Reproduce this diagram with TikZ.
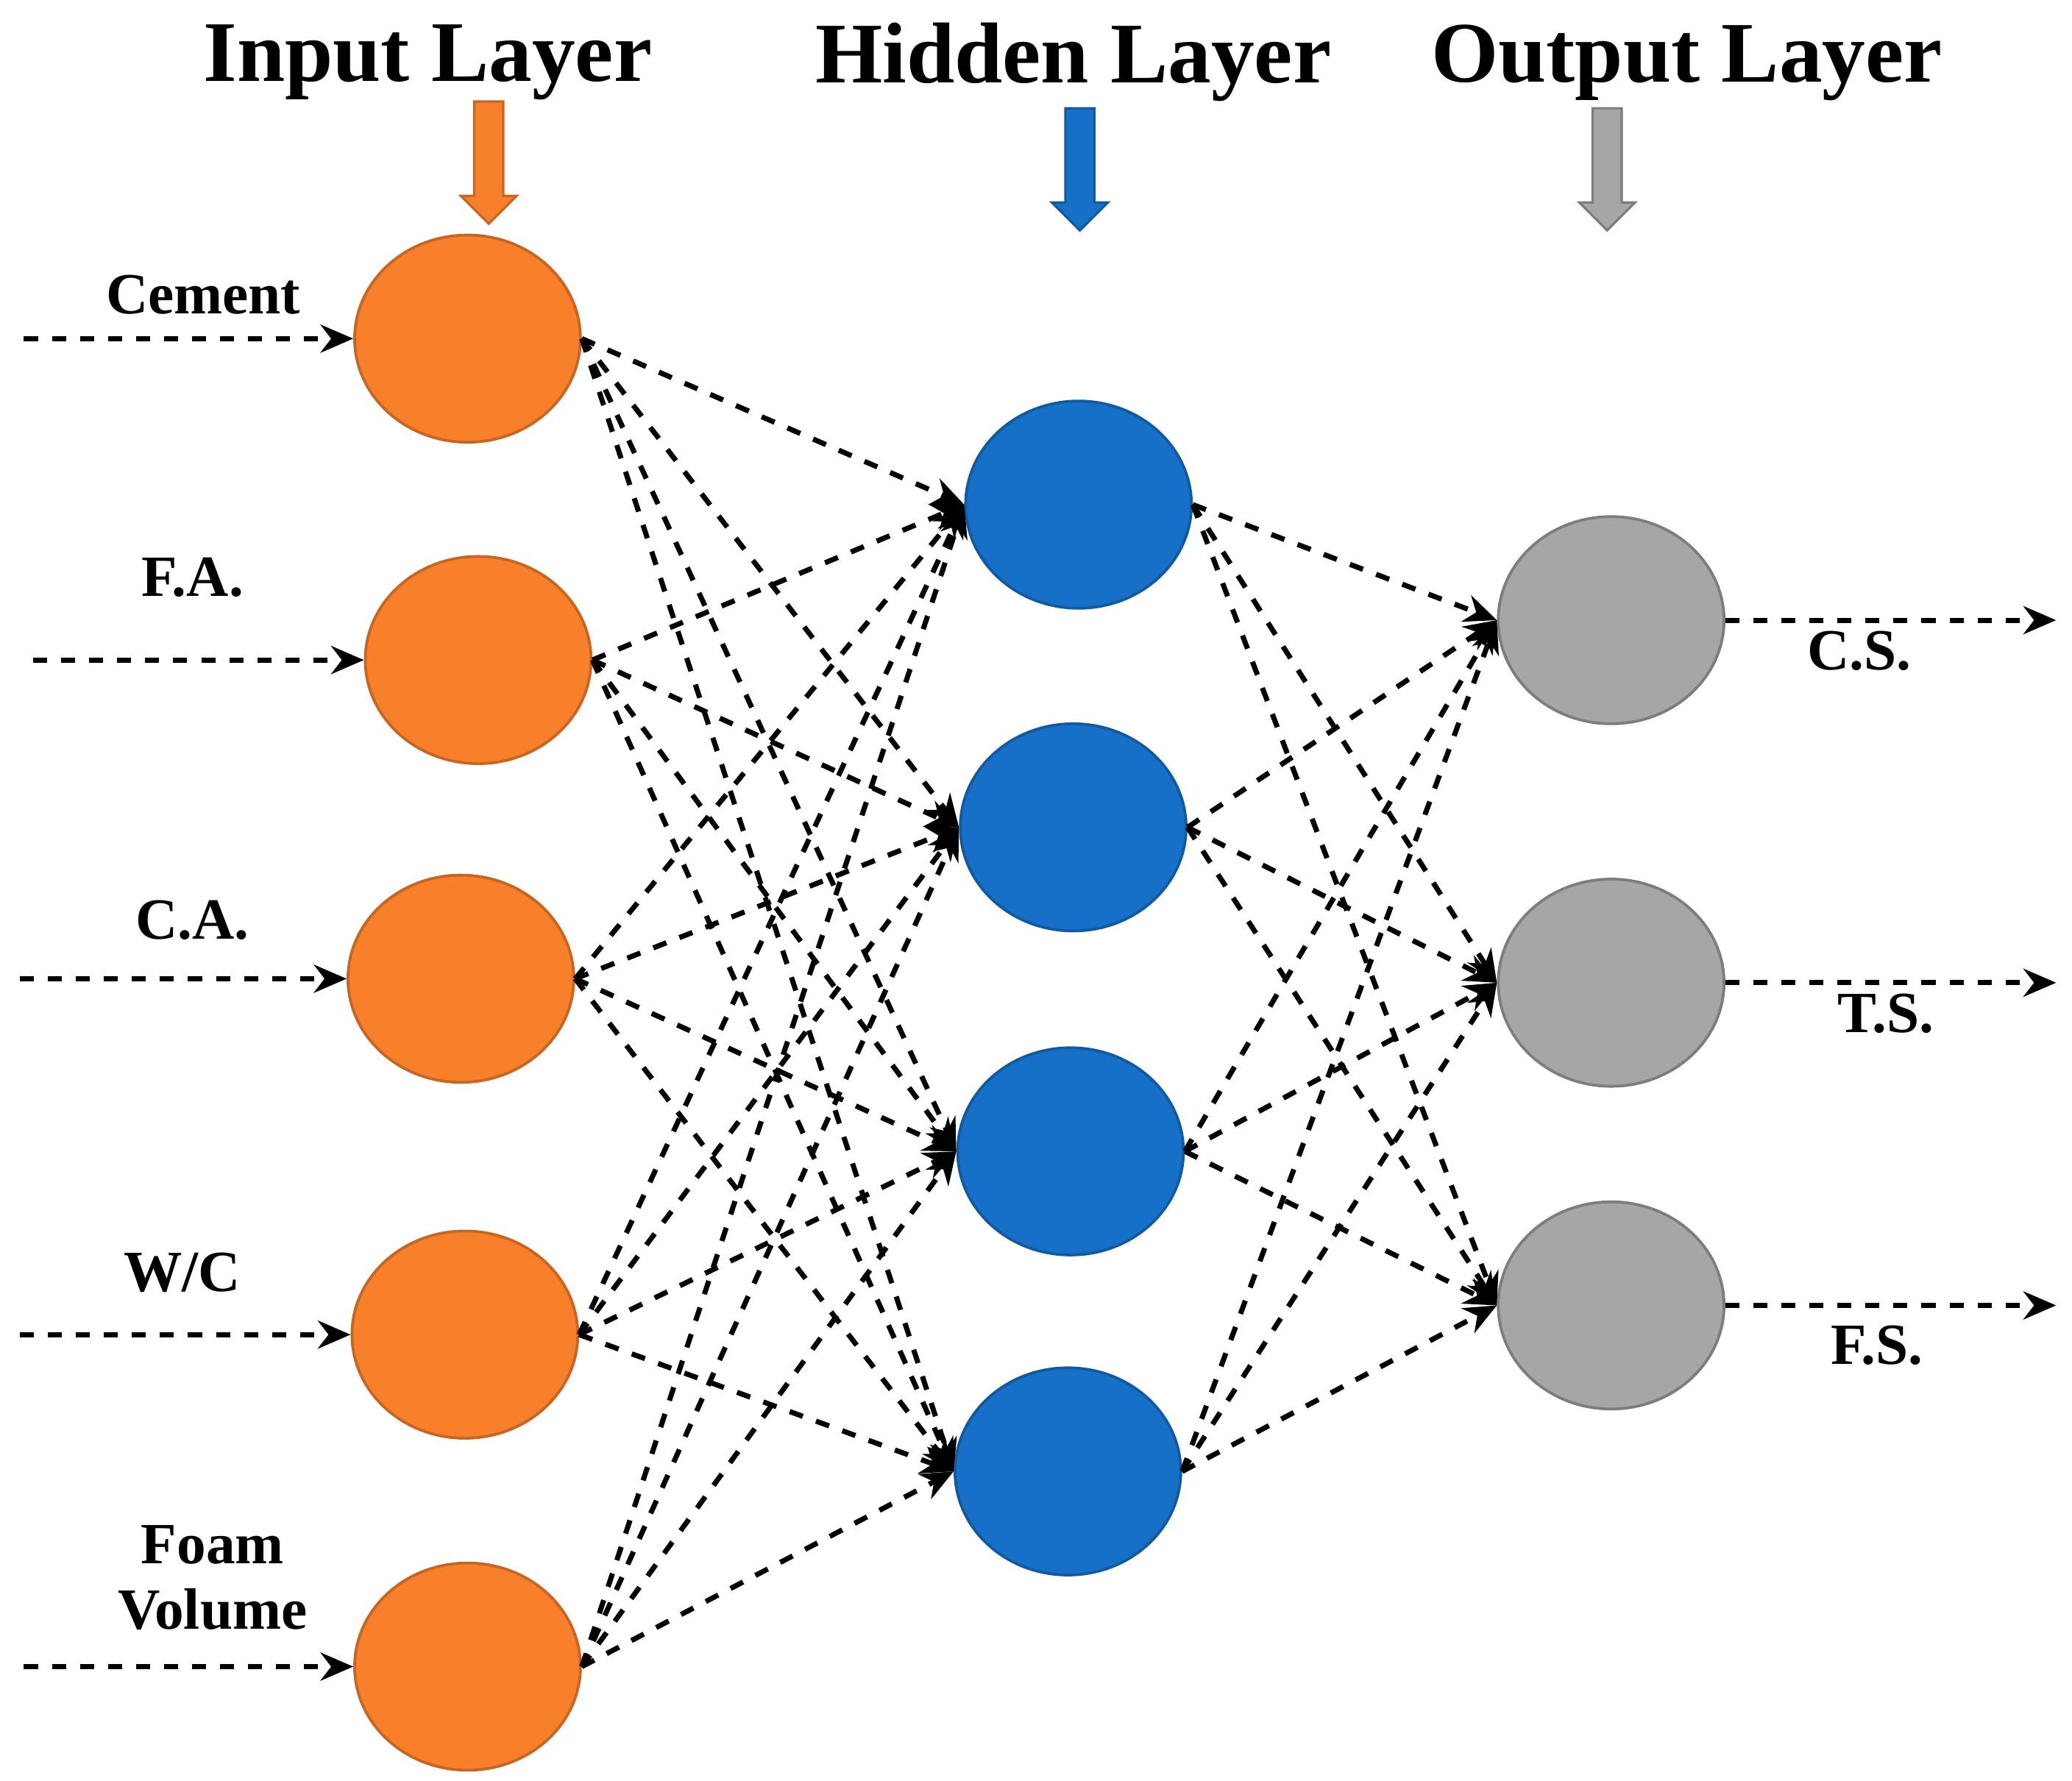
\documentclass[tikz,border=0pt]{standalone}
\usepackage{fontspec}
\setmainfont{Liberation Serif}
\usetikzlibrary{shapes.arrows,shapes.geometric,arrows.meta}
\definecolor{inorange}{HTML}{F8802A}
\definecolor{hidblue}{HTML}{1670C8}
\definecolor{outgray}{HTML}{A6A6A6}
\begin{document}
\begin{tikzpicture}[
    neuron/.style={ellipse, draw, minimum width=1.7cm, minimum height=1.56cm, line width=0.6pt},
    inn/.style={neuron, fill=inorange, draw=inorange!80!black},
    hid/.style={neuron, fill=hidblue, draw=hidblue!80!black},
    outn/.style={neuron, fill=outgray, draw=outgray!75!black},
    conn/.style={-{Stealth[length=7pt,width=6pt]}, dashed, line width=1.1pt},
    lbl/.style={font=\fontsize{12.5}{14}\selectfont\bfseries, align=center},
    title/.style={font=\fontsize{18.5}{22}\selectfont\bfseries},
    fat/.style={single arrow, draw, shape border rotate=270, minimum height=0.92cm, minimum width=0.42cm, single arrow head extend=0.1cm, single arrow tip angle=90, inner sep=0.1cm, line width=0.5pt}
]
\useasboundingbox (0,0) rectangle (15.6,-13.41);

% titles
\node[title] (tin) at (3.22,-0.47) {Input Layer};
\node[title] (thid) at (8.08,-0.47) {Hidden Layer};
\node[title] (tout) at (12.70,-0.47) {Output Layer};
\node[fat, fill=inorange, draw=inorange!80!black] (ain) at (3.68,-1.17) {};
\node[fat, fill=hidblue, draw=hidblue!80!black] (ahid) at (8.13,-1.22) {};
\node[fat, fill=outgray, draw=outgray!75!black] (aout) at (12.10,-1.22) {};

% input layer
\node[inn] (i1) at (3.52,-2.55) {};
\node[inn] (i2) at (3.60,-4.97) {};
\node[inn] (i3) at (3.47,-7.37) {};
\node[inn] (i4) at (3.50,-10.05) {};
\node[inn] (i5) at (3.52,-12.55) {};

% hidden layer
\node[hid] (h1) at (8.12,-3.80) {};
\node[hid] (h2) at (8.08,-6.23) {};
\node[hid] (h3) at (8.06,-8.67) {};
\node[hid] (h4) at (8.04,-11.08) {};

% output layer
\node[outn] (o1) at (12.13,-4.67) {};
\node[outn] (o2) at (12.13,-7.40) {};
\node[outn] (o3) at (12.13,-9.83) {};

% inputs
\coordinate (s1) at (0.18,-2.55);
\coordinate (s2) at (0.25,-4.97);
\coordinate (s3) at (0.15,-7.37);
\coordinate (s4) at (0.15,-10.05);
\coordinate (s5) at (0.18,-12.55);
\foreach \k in {1,...,5} \draw[conn] (s\k) -- (i\k.west);
\node[lbl] (l1) at (1.53,-2.22) {Cement};
\node[lbl] (l2) at (1.45,-4.35) {F.A.};
\node[lbl] (l3) at (1.45,-6.93) {C.A.};
\node[lbl] (l4) at (1.37,-9.58) {W/C};
\node[lbl] (l5) at (1.60,-11.88) {Foam\\Volume};

% connections
\foreach \a in {1,...,5} \foreach \b in {1,...,4} \draw[conn] (i\a.east) -- (h\b.west);
\foreach \a in {1,...,4} \foreach \b in {1,...,3} \draw[conn] (h\a.east) -- (o\b.west);

% outputs
\coordinate (e1) at (15.48,-4.67);
\coordinate (e2) at (15.48,-7.40);
\coordinate (e3) at (15.48,-9.83);
\foreach \k in {1,2,3} \draw[conn] (o\k.east) -- (e\k);
\node[lbl] (r1) at (14.00,-4.90) {C.S.};
\node[lbl] (r2) at (14.20,-7.63) {T.S.};
\node[lbl] (r3) at (14.13,-10.13) {F.S.};
\end{tikzpicture}
\end{document}
